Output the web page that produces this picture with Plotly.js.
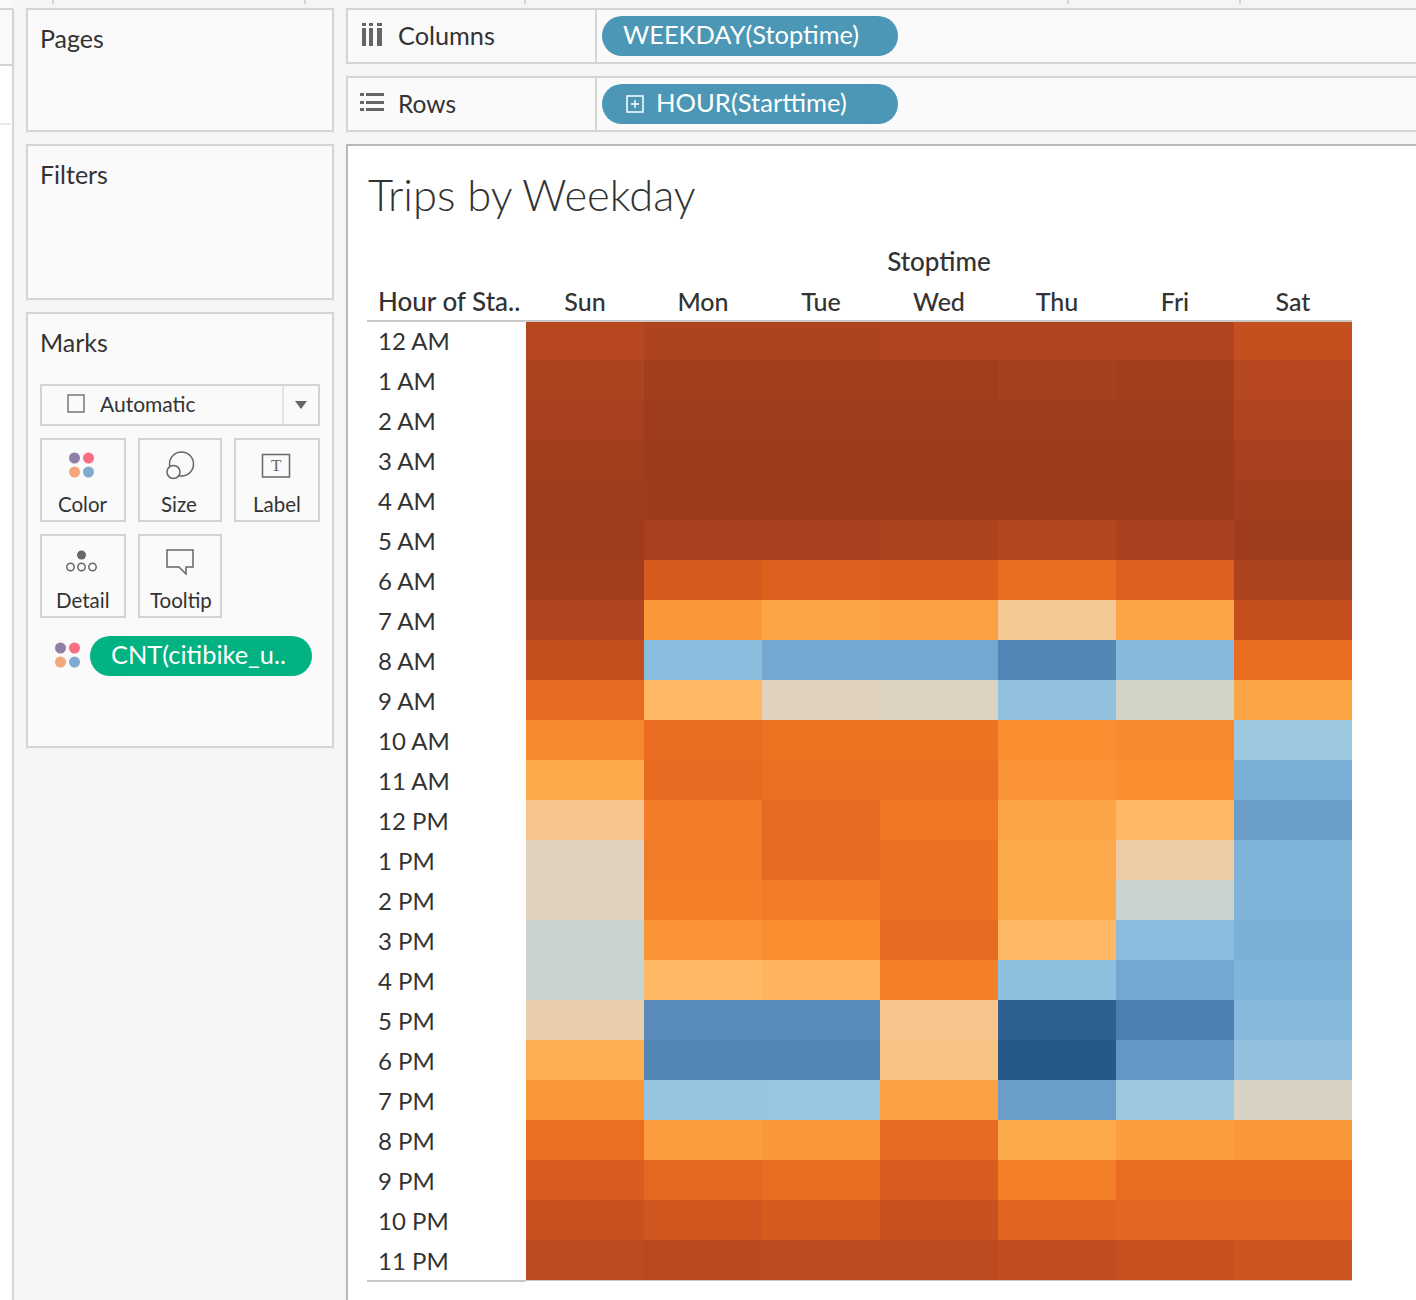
<!DOCTYPE html>
<html><head><meta charset="utf-8">
<script src="https://cdn.plot.ly/plotly-3.0.1.min.js"></script>
<style>html,body{margin:0;padding:0;background:#f5f5f5;overflow:hidden}#c{width:1416px;height:1300px}</style>
</head><body><div id="c"></div>
<script>
const weekdays = ['Sun','Mon','Tue','Wed','Thu','Fri','Sat'];
const hours = ['12 AM','1 AM','2 AM','3 AM','4 AM','5 AM','6 AM','7 AM','8 AM','9 AM','10 AM','11 AM','12 PM','1 PM','2 PM','3 PM','4 PM','5 PM','6 PM','7 PM','8 PM','9 PM','10 PM','11 PM'];
const sun = [12,8,6,3,2,2,3,9,19,34,43,50,59,65,65,70,70,63,51,46,36,27,21,15];
const mon = [8,3,2,1,1,6,26,46,81,54,35,34,40,40,41,45,54,93,94,78,47,33,24,14];
const tue = [8,3,2,1,1,7,29,49,87,65,38,37,34,34,40,44,53,93,94,77,46,35,26,15];
const wed = [9,3,2,1,1,8,28,48,87,66,38,37,39,37,37,34,41,59,58,48,34,27,21,15];
const thu = [9,5,2,1,1,11,35,60,94,79,44,45,49,50,50,54,80,99,100,90,50,41,31,18];
const fri = [9,4,2,1,1,7,29,49,82,68,43,44,54,62,70,81,87,95,91,76,47,35,32,21];
const sat = [20,12,9,6,3,2,8,20,35,49,76,85,90,84,84,85,84,82,79,67,46,35,32,23];
const zRows = hours.map((_, i) => [sun[i],mon[i],tue[i],wed[i],thu[i],fri[i],sat[i]]);
const colorStops = [[0,'#9b3a1e'],[10,'#b2451f'],[20,'#c5501f'],[30,'#e0621f'],[38,'#ee7222'],[44,'#f88e30'],[50,'#fdaa4c'],[55,'#ffbb69'],[60,'#f4c893'],[65,'#e0d2bd'],[70,'#c9d2cc'],[75,'#a0cbe0'],[80,'#8dbfdf'],[85,'#7bb0d6'],[90,'#6a9dc8'],[95,'#4d7fb0'],[100,'#265888']];

const W = 1416, H = 1300, FONT = 'Lato, "Open Sans", sans-serif', HEAD = '"Lato Medium", Lato, "Open Sans", sans-serif', TXT = '#333333', BORDER = '#d4d4d4';
const X = p => p / W, Y = p => 1 - p / H;
const rect = (x0,y0,x1,y1,fill,line,lw) => ({type:'rect',xref:'paper',yref:'paper',x0:X(x0),x1:X(x1),y0:Y(y0),y1:Y(y1),fillcolor:fill||'rgba(0,0,0,0)',line:{color:line||'rgba(0,0,0,0)',width:line?(lw||2):0},layer:'below'});
const circ = (cx,cy,r,fill,line,lw) => ({type:'circle',xref:'paper',yref:'paper',x0:X(cx-r),x1:X(cx+r),y0:Y(cy-r),y1:Y(cy+r),fillcolor:fill||'rgba(0,0,0,0)',line:{color:line||'rgba(0,0,0,0)',width:line?(lw||2):0},layer:'above'});
const lineS = (x0,y0,x1,y1,c,lw,layer) => ({type:'line',xref:'paper',yref:'paper',x0:X(x0),x1:X(x1),y0:Y(y0),y1:Y(y1),line:{color:c,width:lw||2},layer:layer||'above'});
const pathS = (pts,fill,line,lw,closed) => ({type:'path',xref:'paper',yref:'paper',path:'M'+pts.map(p=>X(p[0])+','+Y(p[1])).join(' L')+(closed===false?'':' Z'),fillcolor:fill||'rgba(0,0,0,0)',line:{color:line||'rgba(0,0,0,0)',width:line?(lw||2):0},layer:'above'});
const pill = (x0,y0,x1,y1,fill) => {
  const r=(y1-y0)/2;
  return [rect(x0+r,y0,x1-r,y1,fill), Object.assign(circ(x0+r,y0+r,r,fill),{layer:'below'}), Object.assign(circ(x1-r,y0+r,r,fill),{layer:'below'})];
};
const txt = (t,x,y,size,opt) => Object.assign({text:t,xref:'paper',yref:'paper',x:X(x),y:Y(y),xanchor:'left',yanchor:'middle',showarrow:false,font:{family:FONT,size:size,color:TXT}},opt||{});

const shapes = [
  rect(0,0,12,65,'#f9f9f9'), rect(0,65,12,1300,'#ffffff'),
  lineS(0,65,12,65,BORDER,2), lineS(0,124,11,124,'#e8e8e8',2), lineS(13,9,13,1300,BORDER,2), lineS(0,9,13,9,BORDER,2),
  lineS(53,0,53,4,BORDER,2), lineS(305,0,305,4,BORDER,2), lineS(525,0,525,4,BORDER,2), lineS(1068,0,1068,4,BORDER,2), lineS(1240,0,1240,4,BORDER,2),
  rect(27,9,333,131,'#fafafa',BORDER), rect(27,145,333,299,'#fafafa',BORDER), rect(27,313,333,747,'#fafafa',BORDER),
  rect(347,9,1420,63,'#fafafa',BORDER), rect(347,77,1420,131,'#fafafa',BORDER),
  lineS(596,9,596,63,BORDER,2,'below'), lineS(596,77,596,131,BORDER,2,'below'),
  rect(347,145,1420,1304,'#ffffff','#b8b8b8'),
  rect(41,385,319,425,'#fafafa',BORDER), lineS(283,386,283,424,'#e4e4e4',2),
  rect(41,439,125,521,'#fafafa',BORDER), rect(139,439,221,521,'#fafafa',BORDER), rect(235,439,319,521,'#fafafa',BORDER),
  rect(41,535,125,617,'#fafafa',BORDER), rect(139,535,221,617,'#fafafa',BORDER),
  rect(68,395,84,412,'#fafafa','#777777',1.5),
  pathS([[295,401],[307,401],[301,409]],'#666666'),
  circ(74.5,458,5.5,'#8f7ea5'), circ(88.5,458,5.5,'#f96e81'), circ(74.5,472,5.5,'#f2a679'), circ(88.5,472,5.5,'#83a9d0'),
  circ(181.5,464,12,null,'#666666',1.5), circ(173.5,472,6.5,'#fafafa','#666666',1.5),
  rect(262.5,454.5,289.5,477,'#fafafa','#666666',1.5),
  circ(81.5,555,4.5,'#666666'), circ(70.5,567,3.7,null,'#666666',1.5), circ(81.5,567,3.7,null,'#666666',1.5), circ(92.5,567,3.7,null,'#666666',1.5),
  pathS([[167,550],[193,550],[193,567],[186,567],[186,574],[179,567],[167,567]],'#fafafa','#666666',1.5),
  circ(60.5,648,5.5,'#8f7ea5'), circ(74.5,648,5.5,'#f96e81'), circ(60.5,662,5.5,'#f2a679'), circ(74.5,662,5.5,'#83a9d0'),
  rect(362,23,366,26,'#666666'), rect(369,23,373,26,'#666666'), rect(377,23,382,26,'#666666'),
  rect(362,28,366,46,'#666666'), rect(369,28,373,46,'#666666'), rect(377,28,382,46,'#666666'),
  rect(360,93,364,96,'#666666'), rect(360,101,364,104,'#666666'), rect(360,108,364,111,'#666666'),
  rect(366,93,384,96,'#666666'), rect(366,101,384,104,'#666666'), rect(366,108,384,111,'#666666'),
  lineS(367,321,1352,321,'#c8c8c8',2), lineS(367,1281,526,1281,'#c8c8c8',2), lineS(526,1280.5,1352,1280.5,'#c8c8c8',1)
];
shapes.push(...pill(602,16,898,56,'#4b97b5'), ...pill(602,84,898,124,'#4b97b5'), ...pill(90,636,312,676,'#03b282'));
shapes.push(
  Object.assign(rect(627,96,643,112,null,'#ffffff',1.5),{layer:'above'}),
  lineS(631,104,639,104,'#ffffff',1.5), lineS(635,100,635,108,'#ffffff',1.5)
);

const white = size => ({font:{family:FONT,size:size,color:'#ffffff'}});
const annotations = [
  txt('Pages',38,38,25), txt('Filters',38,174,25), txt('Marks',38,342,25),
  txt('Columns',396,35,25.3), txt('Rows',396,104,24.5),
  txt('WEEKDAY(Stoptime)',621,34,25.4,white(25.4)),
  txt('HOUR(Starttime)',654,102,25.6,white(25.6)),
  txt('CNT(citibike_u..',109,654,25.4,white(25.4)),
  txt('Automatic',98,404,21),
  txt('Color',82.5,504,20.5,{xanchor:'center'}), txt('Size',179,504,20.5,{xanchor:'center'}), txt('Label',277,504,20.5,{xanchor:'center'}),
  txt('Detail',82.5,600,20.5,{xanchor:'center'}), txt('Tooltip',180.5,600,20.5,{xanchor:'center'}),
  txt('T',276,466,17,{xanchor:'center',font:{family:'"Liberation Serif", serif',size:17,color:'#666666'}}),
  txt('Hour of Sta..',376,301,26,{font:{family:HEAD,size:26,color:TXT,weight:500}})
];
hours.forEach(h => annotations.push({text:h,xref:'paper',yref:'y',x:X(376),y:h,xanchor:'left',yanchor:'middle',showarrow:false,font:{family:FONT,size:24,color:TXT}}));

const zMin = colorStops[0][0], zMax = colorStops[colorStops.length-1][0];
Plotly.newPlot('c',[{
  type:'heatmap', x:weekdays, y:hours, z:zRows, zmin:zMin, zmax:zMax,
  colorscale:colorStops.map(s=>[(s[0]-zMin)/(zMax-zMin),s[1]]), showscale:false, xgap:0, ygap:0, hoverongaps:false
}],{
  width:W,height:H,margin:{l:0,r:0,t:0,b:0,pad:0},autosize:false,
  paper_bgcolor:'#f5f5f5',plot_bgcolor:'rgba(0,0,0,0)',showlegend:false,
  font:{family:FONT,color:TXT},
  title:{text:'Trips by Weekday',font:{family:FONT,size:43.5,color:TXT,weight:300},xref:'paper',yref:'paper',x:X(368),y:Y(196),xanchor:'left',yanchor:'middle',pad:{l:0,r:0,t:0,b:0}},
  xaxis:{domain:[X(526),X(1352)],range:[-0.5,6.5],side:'top',type:'category',categoryorder:'array',categoryarray:weekdays,
    ticks:'',ticklabelstandoff:3,showline:false,showgrid:false,zeroline:false,tickfont:{family:HEAD,size:25,color:TXT,weight:500},
    title:{text:'Stoptime',font:{family:HEAD,size:26,color:TXT,weight:500},standoff:6},automargin:false},
  yaxis:{domain:[Y(1280),Y(320)],range:[23.5,-0.5],type:'category',categoryorder:'array',categoryarray:hours,
    showticklabels:false,ticks:'',showline:false,showgrid:false,zeroline:false,automargin:false},
  shapes:shapes,annotations:annotations
},{displayModeBar:false,staticPlot:true});
</script></body></html>
